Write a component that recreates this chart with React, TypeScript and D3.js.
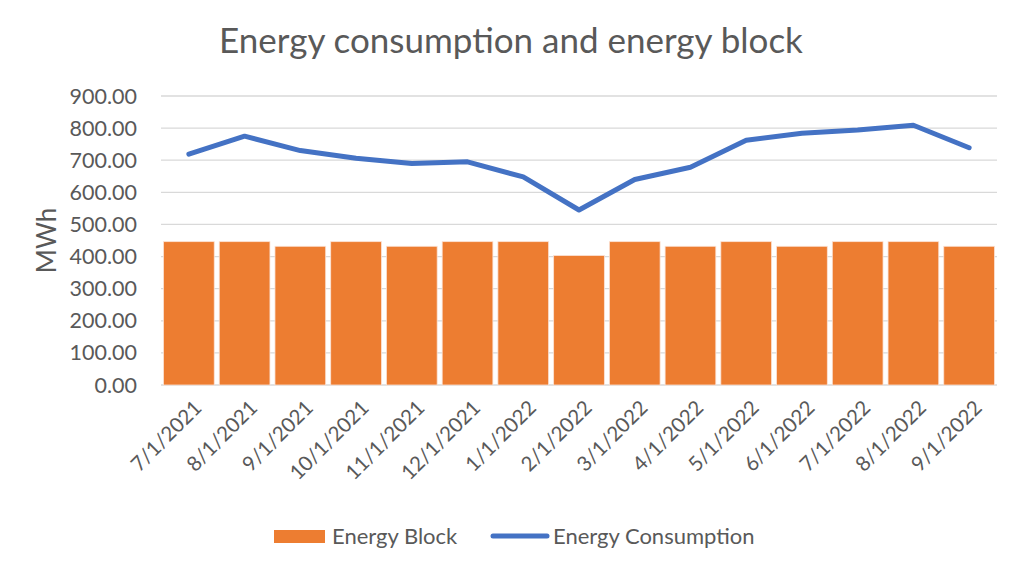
import React, { useEffect, useRef } from "react";
import * as d3 from "d3";

const months = [
  "7/1/2021", "8/1/2021", "9/1/2021", "10/1/2021", "11/1/2021", "12/1/2021",
  "1/1/2022", "2/1/2022", "3/1/2022", "4/1/2022", "5/1/2022", "6/1/2022",
  "7/1/2022", "8/1/2022", "9/1/2022",
];
const energyBlock = [
  446.4, 446.4, 432, 446.4, 432, 446.4, 446.4, 403.2, 446.4, 432, 446.4, 432,
  446.4, 446.4, 432,
];
const energyConsumption = [
  719, 775, 730, 706, 690, 695, 648, 545, 640, 678, 762, 784, 794, 809, 739,
];
const yTicks = [0, 100, 200, 300, 400, 500, 600, 700, 800, 900];

const App: React.FC = () => {
  const svgRef = useRef<SVGSVGElement>(null);
  const width = 1024;
  const height = 573;

  useEffect(() => {
    if (!svgRef.current) return;
    const svg = d3.select(svgRef.current);
    svg.selectAll("*").remove();

    const font = "Lato, 'Noto Sans', sans-serif";
    const textColor = "#595959";
    const left = 161;
    const right = 997;
    const top = 96;
    const bottom = 385;

    const x = d3.scaleBand().domain(months).range([left, right]).paddingInner(0.09).paddingOuter(0.045);
    const y = d3.scaleLinear().domain([0, 900]).range([bottom, top]);

    svg.append("rect").attr("width", width).attr("height", height).attr("fill", "#fff");

    // Title
    svg
      .append("text")
      .attr("x", 511)
      .attr("y", 53)
      .attr("text-anchor", "middle")
      .attr("font-family", font)
      .attr("font-size", 35)
      .attr("fill", textColor)
      .text("Energy consumption and energy block");

    // Gridlines
    svg
      .append("g")
      .selectAll("line")
      .data(yTicks)
      .join("line")
      .attr("x1", left)
      .attr("x2", right)
      .attr("y1", (d) => y(d))
      .attr("y2", (d) => y(d))
      .attr("stroke", "#D9D9D9")
      .attr("stroke-width", 1.3);

    // Y tick labels
    svg
      .append("g")
      .selectAll("text")
      .data(yTicks)
      .join("text")
      .attr("x", 137)
      .attr("y", (d) => y(d))
      .attr("dy", "0.35em")
      .attr("text-anchor", "end")
      .attr("font-family", font)
      .attr("font-size", 21.5)
      .attr("fill", textColor)
      .text((d) => d3.format(".2f")(d));

    // Y axis title
    svg
      .append("text")
      .attr("transform", `translate(56,${(top + bottom) / 2}) rotate(-90)`)
      .attr("text-anchor", "middle")
      .attr("font-family", font)
      .attr("font-size", 26)
      .attr("fill", textColor)
      .text("MWh");

    // Bars
    svg
      .append("g")
      .selectAll("rect")
      .data(energyBlock)
      .join("rect")
      .attr("x", (_, i) => x(months[i])!)
      .attr("y", (d) => y(d))
      .attr("width", x.bandwidth())
      .attr("height", (d) => bottom - y(d))
      .attr("fill", "#ED7D31")
      .attr("stroke", "#FBE2D5")
      .attr("stroke-width", 0.8);

    // Line
    const line = d3
      .line<number>()
      .x((_, i) => x(months[i])! + x.bandwidth() / 2)
      .y((d) => y(d));
    svg
      .append("path")
      .datum(energyConsumption)
      .attr("d", line)
      .attr("fill", "none")
      .attr("stroke", "#4472C4")
      .attr("stroke-width", 5)
      .attr("stroke-linejoin", "round")
      .attr("stroke-linecap", "round");

    // X tick labels
    svg
      .append("g")
      .selectAll("text")
      .data(months)
      .join("text")
      .attr(
        "transform",
        (d) => `translate(${x(d)! + x.bandwidth() / 2 + 9},${bottom + 19}) rotate(-45)`
      )
      .attr("text-anchor", "end")
      .attr("dy", "0.35em")
      .attr("font-family", font)
      .attr("font-size", 20.5)
      .attr("fill", textColor)
      .text((d) => d);

    // Legend
    const legend = svg.append("g").attr("font-family", font).attr("font-size", 22).attr("fill", textColor);
    legend
      .append("rect")
      .attr("x", 274)
      .attr("y", 530)
      .attr("width", 51)
      .attr("height", 13)
      .attr("fill", "#ED7D31");
    legend.append("text").attr("x", 332).attr("y", 536).attr("dy", "0.35em").text("Energy Block");
    legend
      .append("line")
      .attr("x1", 493)
      .attr("x2", 547)
      .attr("y1", 536)
      .attr("y2", 536)
      .attr("stroke", "#4472C4")
      .attr("stroke-width", 5)
      .attr("stroke-linecap", "round");
    legend.append("text").attr("x", 553).attr("y", 536).attr("dy", "0.35em").text("Energy Consumption");
  }, []);

  return (
    <svg
      ref={svgRef}
      width={width}
      height={height}
      style={{ position: "absolute", left: 0, top: 0 }}
    />
  );
};

export default App;
